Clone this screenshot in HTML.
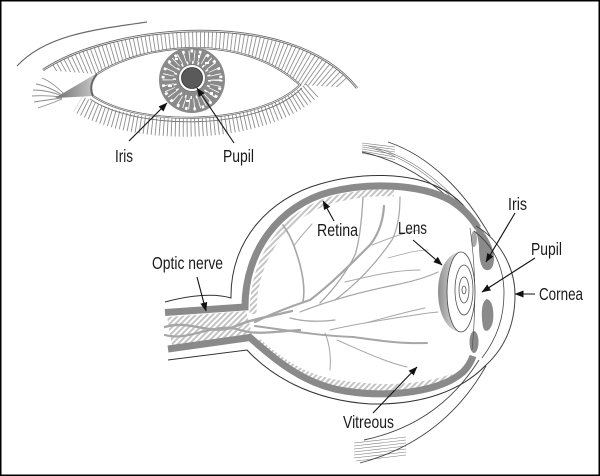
<!DOCTYPE html>
<html>
<head>
<meta charset="utf-8">
<style>
html,body{margin:0;padding:0;background:#fff}
svg{display:block}
text{font-family:"Liberation Sans",sans-serif;font-size:17.5px;fill:#1a1a1a}
</style>
</head>
<body>
<svg width="600" height="476" viewBox="0 0 600 476" xmlns="http://www.w3.org/2000/svg">
<defs>
  <pattern id="hatch" width="4" height="4" patternUnits="userSpaceOnUse" patternTransform="rotate(45)">
    <rect width="4" height="4" fill="#fff"/>
    <rect width="2" height="4" fill="#c4c4c4"/>
  </pattern>
  <marker id="ah" markerWidth="9" markerHeight="7" refX="8.5" refY="3.5" orient="auto" markerUnits="userSpaceOnUse">
    <path d="M0,0 L9,3.5 L0,7 Z" fill="#111"/>
  </marker>
  <linearGradient id="car" x1="0" x2="1" y1="0" y2="0">
    <stop offset="0" stop-color="#6f6f6f"/>
    <stop offset="1" stop-color="#d0d0d0"/>
  </linearGradient>
  <linearGradient id="lensg" x1="0" x2="1" y1="0" y2="0">
    <stop offset="0" stop-color="#8e8e8e"/>
    <stop offset="1" stop-color="#e8e8e8"/>
  </linearGradient>
  <clipPath id="upLash">
    <path d="M43,70 C110,25 290,5 357,88 L300,85 C240,30 140,45 97,74 Z"/>
  </clipPath>
  <clipPath id="opening">
    <path d="M97,74 C140,45 240,30 300,85 C260,125 140,128 93,96 Q88,85 97,74 Z"/>
  </clipPath>
</defs>

<rect x="0.75" y="0.75" width="598.5" height="474.5" fill="#fff" stroke="#000" stroke-width="1.5"/>

<!-- ================= TOP EYE ================= -->
<path d="M17,66 C45,36 90,30 147,22" fill="none" stroke="#6a6a6a" stroke-width="1.2"/>
<path d="M58,74 C125,33 272,14 338,90" fill="none" stroke="#919191" stroke-width="46" stroke-dasharray="0.9 3" clip-path="url(#upLash)"/>
<path d="M43,70 C110,25 290,5 357,88" fill="none" stroke="#666" stroke-width="2.4"/>
<path d="M43,70 C110,25 290,5 357,88" fill="none" stroke="#fff" stroke-width="0.7"/>
<path d="M312,90 C262,136 138,139 78,104" fill="none" stroke="#8c8c8c" stroke-width="18" stroke-dasharray="0.9 3"/>
<g stroke="#8c8c8c" stroke-width="0.9" fill="none">
  <path d="M62,95 Q48,86 36,84"/>
  <path d="M62,96 Q48,90 33,90"/>
  <path d="M62,97 Q46,95 32,96"/>
  <path d="M62,98 Q47,100 34,102"/>
  <path d="M62,99 Q50,104 38,108"/>
  <path d="M64,94 Q52,82 42,78"/>
</g>
<path d="M55,98 Q75,86 99,72 Q88,85 93,96 Q75,97 55,98 Z" fill="url(#car)"/>
<path d="M97,74 C140,45 240,30 300,85 C260,125 140,128 93,96 Q88,85 97,74 Z" fill="#fff" stroke="#666" stroke-width="2"/>
<path d="M97,74 C140,45 240,30 300,85 C260,125 140,128 93,96" fill="none" stroke="#fff" stroke-width="0.6"/>
<path d="M302,88 C260,130 140,132 90,99" fill="none" stroke="#777" stroke-width="0.9"/>
<g clip-path="url(#opening)">
  <circle cx="192" cy="80" r="33" fill="#8a8a8a"/>
  <circle cx="192" cy="80" r="24" fill="none" stroke="#fff" stroke-width="11" stroke-dasharray="0.8 4.2"/>
  <circle cx="192" cy="80" r="29" fill="none" stroke="#fff" stroke-width="3" stroke-dasharray="2.5 6" stroke-dashoffset="1"/>
  <circle cx="192" cy="80" r="17.5" fill="none" stroke="#fff" stroke-width="3" stroke-dasharray="1.5 4"/>
  <g fill="#fff">
    <rect x="175" y="58" width="3" height="2"/>
    <rect x="205" y="62" width="4" height="2"/>
    <rect x="168" y="85" width="4" height="2"/>
    <rect x="210" y="92" width="3" height="3"/>
    <rect x="186" y="100" width="4" height="2"/>
    <rect x="198" y="55" width="2" height="3"/>
  </g>
</g>
<circle cx="192" cy="78" r="13.5" fill="#fff" stroke="#777" stroke-width="1"/>
<circle cx="192" cy="78" r="10.5" fill="#5a5a5a" stroke="#333" stroke-width="0.8"/>

<g stroke="#111" stroke-width="1.1" fill="none">
  <line x1="129" y1="141" x2="167" y2="103" marker-end="url(#ah)"/>
  <line x1="234" y1="143" x2="197" y2="88" marker-end="url(#ah)"/>
</g>
<text x="115" y="162" textLength="18" lengthAdjust="spacingAndGlyphs">Iris</text>
<text x="223" y="162" textLength="31" lengthAdjust="spacingAndGlyphs">Pupil</text>

<!-- ================= CROSS SECTION ================= -->
<g fill="none" stroke="#777" stroke-width="0.6">
  <path d="M362,143 L395,147"/>
  <path d="M362,145 L395,149.5"/>
  <path d="M362,147 L395,152"/>
  <path d="M362,149 L395,154.5"/>
  <path d="M362,151 L395,157"/>
  <path d="M362,153 L395,159.5"/>
  <path d="M368,146 C412,155 452,188 480,230"/>
  <path d="M374,149 C415,160 450,192 478,228"/>
</g>
<g fill="none" stroke="#444" stroke-width="0.9">
  <path d="M388,142 C430,156 465,192 490,236"/>
  <path d="M362,152 C408,162 448,192 477,227"/>
</g>
<g fill="none" stroke="#777" stroke-width="0.6">
  <path d="M354,443 L406,437"/>
  <path d="M354,446 L406,440"/>
  <path d="M354,449 L406,443"/>
  <path d="M354,452 L406,446"/>
  <path d="M354,455 L406,449"/>
  <path d="M354,458 L406,452"/>
  <path d="M356,461 L406,455"/>
</g>
<g fill="none" stroke="#444" stroke-width="0.9">
  <path d="M360,463 C420,447 460,412 486,366"/>
  <path d="M364,440 C420,428 455,398 479,360"/>
</g>

<g fill="none" stroke="#333" stroke-width="1">
  <path d="M165,302 C190,295 215,293 231,298 C230,240 270,198 320,184 C360,172 410,172 440,188 C458,197 470,210 478,228"/>
  <path d="M168,360 C200,356 230,352 247,350 C270,375 310,400 370,404 C420,405 460,392 486,365"/>
</g>

<path d="M253,314 C253,256 286,213 333,199.5 C355,194 375,192 394,193" fill="none" stroke="url(#hatch)" stroke-width="7"/>
<path d="M257,341 C282,364 310,381 346,384.5 C390,391 430,386 453,377" fill="none" stroke="url(#hatch)" stroke-width="7"/>
<path d="M167,317 L246,311 L252,334 L172,345 Z" fill="url(#hatch)"/>

<g fill="none" stroke="#a6a6a6" stroke-linecap="round">
  <path d="M165,327 C190,319 212,337 236,326 C252,319 268,317 292,311" stroke-width="2.4"/>
  <path d="M165,335 C190,342 215,321 240,330 C256,335 272,332 300,330" stroke-width="2.2"/>
  <path d="M255,322 C275,312 295,305 310,300 C330,285 350,265 370,245 C378,235 383,222 384,206" stroke-width="2.2"/>
  <path d="M303,302 C306,285 301,265 294,246 C291,238 288,232 283,225" stroke-width="1.6"/>
  <path d="M294,246 C299,238 305,232 312,224" stroke-width="1"/>
  <path d="M320,303 C333,290 345,275 355,255 C360,240 362,215 363,197" stroke-width="1.3"/>
  <path d="M335,300 C355,285 375,265 392,240 C398,228 400,212 400,197" stroke-width="1.2"/>
  <path d="M300,312 C330,300 360,292 395,285 C410,282 425,278 438,272" stroke-width="1.2"/>
  <path d="M345,282 C370,276 395,270 420,270" stroke-width="1"/>
  <path d="M255,326 C285,330 320,336 353,337 C375,340 400,344 427,343" stroke-width="2"/>
  <path d="M325,333 C330,345 331,358 330,370" stroke-width="1"/>
  <path d="M337,340 C360,350 385,362 407,367" stroke-width="1"/>
  <path d="M330,330 C350,325 370,322 395,318 C410,316 425,313 438,312" stroke-width="1"/>
  <path d="M365,323 C385,318 405,312 425,308" stroke-width="0.9"/>
  <path d="M290,318 C305,322 320,322 335,320" stroke-width="1.2"/>
  <path d="M372,245 C390,238 405,232 420,230" stroke-width="0.9"/>
  <path d="M388,258 C400,255 415,250 428,250" stroke-width="0.8"/>
</g>

<g fill="none" stroke="#8a8a8a" stroke-width="7" stroke-linejoin="miter">
  <path d="M165,312.5 L245,307 C245,250 280,205 330,192 C370,182 420,184 450,200 C463,208 472,218 478,228"/>
  <path d="M168,349 L250,337.5 C275,360 305,385 345,391 C390,398 440,392 463,372 C468,367 471,362 473,356"/>
</g>

<!-- iris lobes (side view) -->
<path d="M473,219 C483,230 494,244 494,258 C494,268 490,271 486,270 C480,268 479,256 479,246 C478,236 475,228 473,219 Z" fill="#8a8a8a"/>
<ellipse cx="474" cy="239" rx="3" ry="8" fill="#a8a8a8"/>
<path d="M487,299 C493,301 494,312 493,321 C491,331 485,334 483,327 C481,316 481,301 487,299 Z" fill="#8a8a8a"/>
<ellipse cx="474" cy="342" rx="4.5" ry="11" fill="#8a8a8a"/>
<path d="M470,228 C475,262 477,300 472,350" fill="none" stroke="#555" stroke-width="0.7"/>

<g fill="none" stroke="#444">
  <path d="M476,226 C500,240 515,268 515,295 C515,325 505,348 485,366" stroke-width="1"/>
  <path d="M474,231 C494,246 504,268 504,293 C504,318 497,338 482,358" stroke-width="0.8"/>
</g>

<path d="M459,252 C431,258 431,326 459,332 Z" fill="url(#lensg)"/>
<ellipse cx="461" cy="292" rx="14" ry="40" fill="#fff" stroke="#444" stroke-width="0.8"/>
<g fill="none" stroke="#555" stroke-width="0.8">
  <ellipse cx="464" cy="290" rx="9" ry="25"/>
  <ellipse cx="464" cy="290" rx="5" ry="13"/>
  <ellipse cx="464" cy="290" rx="2" ry="4"/>
</g>

<g stroke="#111" stroke-width="1.1" fill="none">
  <line x1="197" y1="277" x2="206" y2="311" marker-end="url(#ah)"/>
  <line x1="334" y1="221" x2="323" y2="201" marker-end="url(#ah)"/>
  <line x1="413" y1="240" x2="442" y2="265" marker-end="url(#ah)"/>
  <line x1="515" y1="213" x2="486" y2="262" marker-end="url(#ah)"/>
  <line x1="535" y1="258" x2="482" y2="292" marker-end="url(#ah)"/>
  <line x1="535" y1="294" x2="515" y2="294" marker-end="url(#ah)"/>
  <line x1="373" y1="413" x2="417" y2="367" marker-end="url(#ah)"/>
</g>

<text x="152" y="269" textLength="71" lengthAdjust="spacingAndGlyphs">Optic nerve</text>
<text x="317" y="236" textLength="41" lengthAdjust="spacingAndGlyphs">Retina</text>
<text x="398" y="234" textLength="29" lengthAdjust="spacingAndGlyphs">Lens</text>
<text x="508" y="210" textLength="19" lengthAdjust="spacingAndGlyphs">Iris</text>
<text x="531" y="255" textLength="31" lengthAdjust="spacingAndGlyphs">Pupil</text>
<text x="539" y="300" textLength="44" lengthAdjust="spacingAndGlyphs">Cornea</text>
<text x="343" y="428" textLength="51" lengthAdjust="spacingAndGlyphs">Vitreous</text>
</svg>
</body>
</html>
